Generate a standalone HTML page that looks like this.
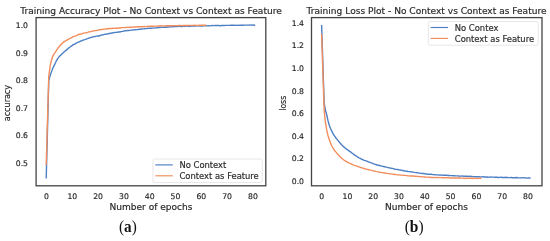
<!DOCTYPE html>
<html lang="en"><head><meta charset="utf-8"><title>Training plots</title>
<style>html,body{margin:0;padding:0;background:#fff}body{width:550px;height:241px;overflow:hidden}</style></head>
<body>
<svg width="550" height="241" viewBox="0 0 550 241" style="display:block">
<rect width="550" height="241" fill="#fff"/>
<g font-family="'DejaVu Sans', 'Liberation Sans', sans-serif" fill="#2b2b2b" stroke="#2b2b2b" stroke-width="0.18">
<text x="151.1" y="13.7" font-size="8.6" text-anchor="middle" textLength="261.5" lengthAdjust="spacingAndGlyphs">Training Accuracy Plot - No Context vs Context as Feature</text>
<text x="426.6" y="13.7" font-size="8.6" text-anchor="middle" textLength="240" lengthAdjust="spacingAndGlyphs">Training Loss Plot - No Context vs Context as Feature</text>
<rect x="36.1" y="17.6" width="229.7" height="168.2" fill="none" stroke="#444" stroke-width="1.3"/>
<rect x="311.5" y="17.6" width="230.5" height="168.2" fill="none" stroke="#444" stroke-width="1.3"/>
<text x="46.5" y="198.7" font-size="7.7" text-anchor="middle">0</text>
<text x="321.6" y="198.7" font-size="7.7" text-anchor="middle">0</text>
<text x="72.3" y="198.7" font-size="7.7" text-anchor="middle">10</text>
<text x="347.4" y="198.7" font-size="7.7" text-anchor="middle">10</text>
<text x="98.1" y="198.7" font-size="7.7" text-anchor="middle">20</text>
<text x="373.2" y="198.7" font-size="7.7" text-anchor="middle">20</text>
<text x="123.9" y="198.7" font-size="7.7" text-anchor="middle">30</text>
<text x="399.0" y="198.7" font-size="7.7" text-anchor="middle">30</text>
<text x="149.7" y="198.7" font-size="7.7" text-anchor="middle">40</text>
<text x="424.8" y="198.7" font-size="7.7" text-anchor="middle">40</text>
<text x="175.5" y="198.7" font-size="7.7" text-anchor="middle">50</text>
<text x="450.6" y="198.7" font-size="7.7" text-anchor="middle">50</text>
<text x="201.3" y="198.7" font-size="7.7" text-anchor="middle">60</text>
<text x="476.4" y="198.7" font-size="7.7" text-anchor="middle">60</text>
<text x="227.1" y="198.7" font-size="7.7" text-anchor="middle">70</text>
<text x="502.2" y="198.7" font-size="7.7" text-anchor="middle">70</text>
<text x="252.9" y="198.7" font-size="7.7" text-anchor="middle">80</text>
<text x="528.0" y="198.7" font-size="7.7" text-anchor="middle">80</text>
<text x="28" y="28.4" font-size="7.7" text-anchor="end">1.0</text>
<text x="28" y="55.9" font-size="7.7" text-anchor="end">0.9</text>
<text x="28" y="83.3" font-size="7.7" text-anchor="end">0.8</text>
<text x="28" y="110.8" font-size="7.7" text-anchor="end">0.7</text>
<text x="28" y="138.2" font-size="7.7" text-anchor="end">0.6</text>
<text x="28" y="165.7" font-size="7.7" text-anchor="end">0.5</text>
<text x="304" y="25.6" font-size="7.7" text-anchor="end">1.4</text>
<text x="304" y="48.2" font-size="7.7" text-anchor="end">1.2</text>
<text x="304" y="70.9" font-size="7.7" text-anchor="end">1.0</text>
<text x="304" y="93.5" font-size="7.7" text-anchor="end">0.8</text>
<text x="304" y="116.1" font-size="7.7" text-anchor="end">0.6</text>
<text x="304" y="138.7" font-size="7.7" text-anchor="end">0.4</text>
<text x="304" y="161.3" font-size="7.7" text-anchor="end">0.2</text>
<text x="304" y="183.9" font-size="7.7" text-anchor="end">0.0</text>
<text x="151" y="209.5" font-size="8.6" text-anchor="middle" textLength="83" lengthAdjust="spacingAndGlyphs">Number of epochs</text>
<text x="426.5" y="209.5" font-size="8.6" text-anchor="middle" textLength="83" lengthAdjust="spacingAndGlyphs">Number of epochs</text>
<text transform="translate(9.5,103.1) rotate(-90)" font-size="8.6" text-anchor="middle" textLength="36.3" lengthAdjust="spacingAndGlyphs">accuracy</text>
<text transform="translate(285.8,103.3) rotate(-90)" font-size="8.6" text-anchor="middle" textLength="14.9" lengthAdjust="spacingAndGlyphs">loss</text>
</g>
<g fill="none" stroke-width="1.4" stroke-linejoin="round" stroke-linecap="butt">
<path d="M46.20,178.50 L48.78,80.50 L50.07,75.82 L51.36,72.12 L52.65,68.52 L53.94,65.86 L55.23,63.31 L56.52,60.56 L57.81,58.42 L59.10,56.83 L60.39,55.48 L61.68,54.22 L62.97,52.98 L64.26,51.83 L65.55,50.66 L66.84,49.62 L68.13,48.41 L69.42,47.50 L70.71,46.55 L72.00,45.61 L73.29,44.68 L74.58,44.01 L75.87,43.38 L77.16,42.69 L78.45,42.20 L79.74,41.54 L81.03,40.93 L82.32,40.54 L83.61,39.92 L84.90,39.59 L86.19,39.12 L87.48,38.64 L88.77,38.10 L90.06,37.76 L91.35,37.36 L92.64,37.04 L93.93,36.64 L95.22,36.47 L96.51,36.17 L97.80,35.95 L99.09,36.00 L100.38,35.40 L101.67,34.93 L102.96,34.83 L104.25,34.42 L105.54,34.27 L106.83,34.10 L108.12,33.74 L109.41,33.44 L110.70,33.25 L111.99,33.01 L113.28,32.81 L114.57,32.45 L115.86,32.38 L117.15,32.30 L118.44,31.97 L119.73,31.98 L121.02,31.58 L122.31,31.33 L123.60,31.20 L124.89,30.78 L126.18,30.84 L127.47,30.55 L128.76,30.50 L130.05,30.41 L131.34,30.18 L132.63,29.95 L133.92,29.87 L135.21,29.71 L136.50,29.58 L137.79,29.50 L139.08,29.31 L140.37,29.41 L141.66,29.04 L142.95,28.90 L144.24,28.78 L145.53,28.62 L146.82,28.54 L148.11,28.41 L149.40,28.30 L150.69,28.28 L151.98,28.08 L153.27,28.12 L154.56,27.88 L155.85,27.83 L157.14,27.69 L158.43,27.53 L159.72,27.52 L161.01,27.38 L162.30,27.36 L163.59,27.24 L164.88,27.21 L166.17,27.26 L167.46,27.06 L168.75,27.04 L170.04,26.92 L171.33,26.80 L172.62,26.79 L173.91,26.65 L175.20,26.66 L176.49,26.58 L177.78,26.54 L179.07,26.17 L180.36,26.43 L181.65,26.45 L182.94,26.33 L184.23,26.42 L185.52,26.24 L186.81,26.16 L188.10,26.16 L189.39,26.45 L190.68,26.08 L191.97,26.08 L193.26,26.01 L194.55,26.00 L195.84,25.95 L197.13,25.90 L198.42,25.89 L199.71,25.99 L201.00,25.84 L202.29,25.94 L203.58,25.78 L204.87,25.83 L206.16,25.74 L207.45,25.84 L208.74,25.69 L210.03,25.87 L211.32,25.64 L212.61,25.55 L213.90,25.60 L215.19,25.47 L216.48,25.56 L217.77,25.46 L219.06,25.52 L220.35,25.82 L221.64,25.47 L222.93,25.45 L224.22,25.43 L225.51,25.38 L226.80,25.39 L228.09,25.41 L229.38,25.35 L230.67,25.16 L231.96,25.31 L233.25,25.30 L234.54,25.27 L235.83,25.38 L237.12,25.23 L238.41,25.41 L239.70,25.20 L240.99,25.26 L242.28,25.16 L243.57,25.25 L244.86,25.13 L246.15,25.12 L247.44,25.09 L248.73,25.11 L250.02,25.06 L251.31,25.12 L252.60,25.03 L253.89,25.24 L255.18,25.00" stroke="#4c7fc4"/>
<path d="M46.20,165.00 L48.78,76.00 L50.07,66.40 L51.36,60.47 L52.65,56.56 L53.94,54.16 L55.23,52.33 L56.52,50.35 L57.81,48.41 L59.10,46.71 L60.39,45.22 L61.68,43.85 L62.97,42.65 L64.26,41.64 L65.55,40.80 L66.84,40.06 L68.13,39.30 L69.42,38.68 L70.71,38.13 L72.00,37.38 L73.29,36.63 L74.58,36.20 L75.87,35.82 L77.16,35.12 L78.45,34.53 L79.74,34.24 L81.03,33.96 L82.32,33.56 L83.61,33.15 L84.90,32.93 L86.19,32.71 L87.48,32.31 L88.77,31.87 L90.06,31.72 L91.35,31.34 L92.64,31.16 L93.93,30.77 L95.22,30.61 L96.51,30.48 L97.80,30.11 L99.09,29.72 L100.38,29.72 L101.67,29.50 L102.96,29.37 L104.25,29.13 L105.54,29.05 L106.83,28.80 L108.12,28.77 L109.41,28.37 L110.70,28.53 L111.99,28.54 L113.28,28.31 L114.57,28.35 L115.86,28.12 L117.15,28.20 L118.44,27.93 L119.73,27.95 L121.02,27.76 L122.31,27.61 L123.60,27.61 L124.89,27.66 L126.18,27.46 L127.47,27.36 L128.76,27.32 L130.05,27.17 L131.34,27.18 L132.63,27.14 L133.92,27.05 L135.21,27.04 L136.50,26.93 L137.79,26.74 L139.08,26.80 L140.37,26.73 L141.66,26.68 L142.95,26.68 L144.24,26.57 L145.53,26.59 L146.82,26.46 L148.11,26.24 L149.40,26.36 L150.69,26.14 L151.98,26.26 L153.27,26.28 L154.56,26.17 L155.85,26.14 L157.14,26.08 L158.43,26.04 L159.72,26.01 L161.01,25.62 L162.30,25.94 L163.59,25.83 L164.88,25.87 L166.17,25.72 L167.46,25.81 L168.75,25.71 L170.04,25.74 L171.33,25.79 L172.62,25.68 L173.91,25.62 L175.20,25.63 L176.49,25.71 L177.78,25.58 L179.07,25.54 L180.36,25.53 L181.65,25.66 L182.94,25.49 L184.23,25.40 L185.52,25.45 L186.81,25.51 L188.10,25.42 L189.39,25.34 L190.68,25.39 L191.97,25.33 L193.26,25.37 L194.55,25.28 L195.84,25.35 L197.13,25.44 L198.42,25.33 L199.71,25.22 L201.00,25.32 L202.29,25.23 L203.58,25.31 L204.87,25.21 L206.16,25.30" stroke="#f28e5c"/>
<path d="M321.60,25.00 L324.18,103.34 L325.47,110.30 L326.76,115.00 L328.05,120.91 L329.34,125.49 L330.63,128.75 L331.92,131.46 L333.21,133.80 L334.50,135.88 L335.79,137.73 L337.08,139.41 L338.37,141.01 L339.66,142.58 L340.95,144.00 L342.24,145.48 L343.53,146.60 L344.82,147.73 L346.11,148.88 L347.40,149.60 L348.69,150.68 L349.98,151.56 L351.27,152.41 L352.56,153.51 L353.85,154.43 L355.14,155.36 L356.43,156.05 L357.72,157.04 L359.01,157.88 L360.30,158.41 L361.59,159.24 L362.88,159.60 L364.17,160.38 L365.46,160.69 L366.75,161.05 L368.04,161.73 L369.33,162.19 L370.62,162.71 L371.91,163.17 L373.20,163.64 L374.49,164.10 L375.78,164.48 L377.07,164.99 L378.36,165.24 L379.65,165.54 L380.94,165.93 L382.23,166.20 L383.52,166.56 L384.81,166.79 L386.10,167.14 L387.39,167.36 L388.68,167.71 L389.97,167.88 L391.26,168.27 L392.55,168.42 L393.84,168.82 L395.13,169.27 L396.42,169.35 L397.71,169.53 L399.00,169.85 L400.29,170.00 L401.58,170.33 L402.87,170.46 L404.16,170.79 L405.45,171.05 L406.74,171.23 L408.03,171.50 L409.32,171.65 L410.61,171.69 L411.90,172.05 L413.19,172.13 L414.48,172.43 L415.77,172.67 L417.06,172.78 L418.35,172.92 L419.64,173.13 L420.93,173.41 L422.22,173.46 L423.51,173.44 L424.80,173.77 L426.09,174.06 L427.38,174.05 L428.67,174.39 L429.96,174.30 L431.25,174.28 L432.54,174.51 L433.83,174.64 L435.12,174.70 L436.41,174.89 L437.70,174.87 L438.99,175.17 L440.28,175.03 L441.57,175.14 L442.86,175.18 L444.15,175.31 L445.44,175.32 L446.73,175.29 L448.02,175.46 L449.31,175.49 L450.60,175.59 L451.89,175.63 L453.18,175.72 L454.47,175.69 L455.76,175.84 L457.05,175.89 L458.34,175.96 L459.63,176.08 L460.92,176.08 L462.21,175.91 L463.50,176.19 L464.79,176.28 L466.08,176.30 L467.37,176.25 L468.66,176.40 L469.95,176.24 L471.24,176.50 L472.53,176.56 L473.82,176.59 L475.11,176.69 L476.40,176.68 L477.69,176.80 L478.98,176.77 L480.27,176.92 L481.56,176.85 L482.85,176.79 L484.14,176.93 L485.43,177.02 L486.72,177.00 L488.01,177.29 L489.30,177.08 L490.59,177.06 L491.88,177.16 L493.17,177.16 L494.46,177.23 L495.75,177.32 L497.04,177.30 L498.33,177.50 L499.62,177.37 L500.91,177.28 L502.20,177.44 L503.49,177.35 L504.78,177.50 L506.07,177.31 L507.36,177.57 L508.65,177.62 L509.94,177.63 L511.23,177.55 L512.52,177.68 L513.81,177.60 L515.10,177.74 L516.39,177.50 L517.68,177.79 L518.97,177.90 L520.26,177.84 L521.55,177.82 L522.84,177.88 L524.13,177.77 L525.42,177.92 L526.71,178.11 L528.00,177.96 L529.29,177.88 L530.58,177.99" stroke="#4c7fc4"/>
<path d="M321.60,33.75 L324.18,110.74 L325.47,122.47 L326.76,130.18 L328.05,135.70 L329.34,139.74 L330.63,143.28 L331.92,146.25 L333.21,148.44 L334.50,150.27 L335.79,151.92 L337.08,153.43 L338.37,154.84 L339.66,156.25 L340.95,157.47 L342.24,158.81 L343.53,159.77 L344.82,160.70 L346.11,161.37 L347.40,162.18 L348.69,162.81 L349.98,163.42 L351.27,163.90 L352.56,164.53 L353.85,165.08 L355.14,165.55 L356.43,165.92 L357.72,166.47 L359.01,166.89 L360.30,167.32 L361.59,167.76 L362.88,168.11 L364.17,168.48 L365.46,168.84 L366.75,169.42 L368.04,169.51 L369.33,169.94 L370.62,170.15 L371.91,170.32 L373.20,170.79 L374.49,171.06 L375.78,171.39 L377.07,171.68 L378.36,171.91 L379.65,172.26 L380.94,172.38 L382.23,172.63 L383.52,172.80 L384.81,172.93 L386.10,173.20 L387.39,173.36 L388.68,173.57 L389.97,173.80 L391.26,173.92 L392.55,174.10 L393.84,174.26 L395.13,174.53 L396.42,174.58 L397.71,174.89 L399.00,174.89 L400.29,175.06 L401.58,175.16 L402.87,175.32 L404.16,175.40 L405.45,175.40 L406.74,175.63 L408.03,175.75 L409.32,175.83 L410.61,175.94 L411.90,176.02 L413.19,175.88 L414.48,176.21 L415.77,176.25 L417.06,176.40 L418.35,176.50 L419.64,176.59 L420.93,176.58 L422.22,176.78 L423.51,176.90 L424.80,176.95 L426.09,177.09 L427.38,177.11 L428.67,177.35 L429.96,177.25 L431.25,177.44 L432.54,177.37 L433.83,177.60 L435.12,177.47 L436.41,177.59 L437.70,177.57 L438.99,177.65 L440.28,177.66 L441.57,177.57 L442.86,177.74 L444.15,177.66 L445.44,177.81 L446.73,177.62 L448.02,177.88 L449.31,177.75 L450.60,177.94 L451.89,177.92 L453.18,177.99 L454.47,177.94 L455.76,178.04 L457.05,178.06 L458.34,178.09 L459.63,177.79 L460.92,178.14 L462.21,178.17 L463.50,178.18 L464.79,178.44 L466.08,178.22 L467.37,178.24 L468.66,178.25 L469.95,178.28 L471.24,178.29 L472.53,178.46 L473.82,178.32 L475.11,178.36 L476.40,178.35 L477.69,178.59 L478.98,178.38 L480.27,178.32 L481.56,178.40" stroke="#f28e5c"/>
</g>
<rect x="153" y="159.0" width="109.2" height="23.6" rx="1.5" fill="#fff" fill-opacity="0.8" stroke="#e4e4e4" stroke-width="0.9"/>
<line x1="155.3" x2="172.8" y1="164.9" y2="164.9" stroke="#4c7fc4" stroke-width="1.15"/>
<line x1="155.3" x2="172.8" y1="175.8" y2="175.8" stroke="#f28e5c" stroke-width="1.15"/>
<g font-family="'DejaVu Sans', 'Liberation Sans', sans-serif" fill="#2b2b2b" font-size="8.4" stroke="#2b2b2b" stroke-width="0.18">
<text x="179.5" y="168.2">No Context</text>
<text x="179.5" y="179.0">Context as Feature</text>
</g>
<rect x="428.3" y="21.6" width="109.9" height="23.6" rx="1.5" fill="#fff" fill-opacity="0.8" stroke="#e4e4e4" stroke-width="0.9"/>
<line x1="430.6" x2="448.1" y1="27.5" y2="27.5" stroke="#4c7fc4" stroke-width="1.15"/>
<line x1="430.6" x2="448.1" y1="38.400000000000006" y2="38.400000000000006" stroke="#f28e5c" stroke-width="1.15"/>
<g font-family="'DejaVu Sans', 'Liberation Sans', sans-serif" fill="#2b2b2b" font-size="8.4" stroke="#2b2b2b" stroke-width="0.18">
<text x="454.8" y="30.8">No Contex</text>
<text x="454.8" y="41.6">Context as Feature</text>
</g>
<g font-family="'Liberation Serif', serif" fill="#111" font-size="15.5" text-anchor="middle">
<text transform="translate(127.9,232.2) scale(0.98,1.13)">(<tspan font-weight="bold">a</tspan>)</text>
<text transform="translate(414.1,232.2) scale(1,1.13)">(<tspan font-weight="bold">b</tspan>)</text>
</g>
</svg>
</body></html>
